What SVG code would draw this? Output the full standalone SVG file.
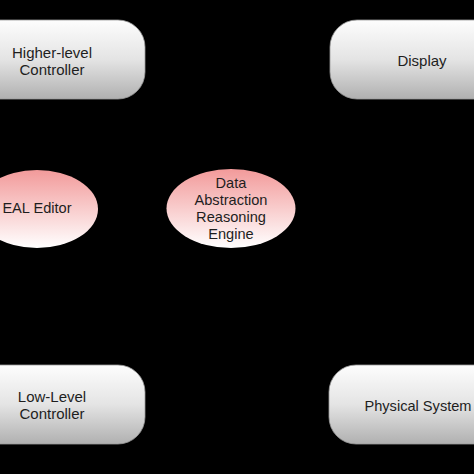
<svg xmlns="http://www.w3.org/2000/svg" width="474" height="474" viewBox="0 0 474 474">
<defs>
<linearGradient id="gGray" x1="0" y1="0" x2="0" y2="1">
<stop offset="0" stop-color="#fdfdfd"/>
<stop offset="0.5" stop-color="#e4e4e4"/>
<stop offset="1" stop-color="#b0b0b0"/>
</linearGradient>
<linearGradient id="gPink" x1="0" y1="0" x2="0" y2="1">
<stop offset="0" stop-color="#f29a9a"/>
<stop offset="1" stop-color="#ffffff"/>
</linearGradient>
</defs>
<style>
.box{fill:url(#gGray);stroke:#9a9a9a;stroke-width:0.8}
.ell{fill:url(#gPink);stroke:none}
.t{font-family:"Liberation Sans",Arial,sans-serif;font-size:15px;fill:#1e1e1e;text-anchor:middle}
.e{font-size:14.6px}
</style>
<rect x="0" y="0" width="474" height="474" fill="#000"/>
<g id="connectors"></g>
<g id="higher-level-controller">
<rect class="box" x="-41" y="20" width="186" height="79" rx="27" ry="27"/>
<text class="t" x="52" y="58">Higher-level</text>
<text class="t" x="52" y="75">Controller</text>
</g>
<g id="display">
<rect class="box" x="330" y="20" width="186" height="79" rx="27" ry="27"/>
<text class="t" x="422" y="66">Display</text>
</g>
<g id="eal-editor">
<ellipse class="ell" cx="37" cy="209" rx="61" ry="39"/>
<text class="t e" x="37" y="213">EAL Editor</text>
</g>
<g id="data-abstraction-reasoning-engine">
<ellipse class="ell" cx="231" cy="208.5" rx="64.5" ry="39.5"/>
<text class="t e" x="231" y="188">Data</text>
<text class="t e" x="231" y="205">Abstraction</text>
<text class="t e" x="231" y="222">Reasoning</text>
<text class="t e" x="231" y="239">Engine</text>
</g>
<g id="low-level-controller">
<rect class="box" x="-41" y="365" width="186" height="79" rx="27" ry="27"/>
<text class="t" x="52" y="402">Low-Level</text>
<text class="t" x="52" y="419">Controller</text>
</g>
<g id="physical-system">
<rect class="box" x="329" y="365" width="186" height="79" rx="27" ry="27"/>
<text class="t" x="418" y="411" style="font-size:14.6px">Physical System</text>
</g>
</svg>
